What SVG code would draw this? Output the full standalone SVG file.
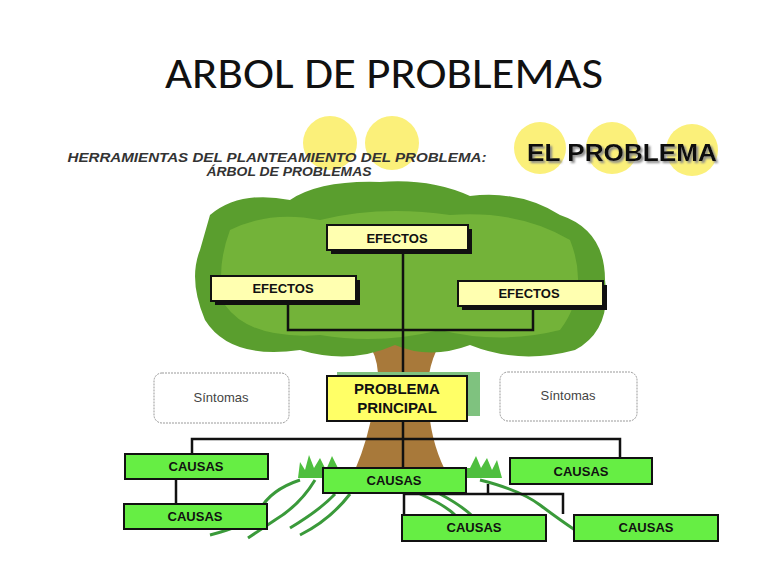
<svg xmlns="http://www.w3.org/2000/svg" width="768" height="576" viewBox="0 0 768 576">
<defs>
<filter id="ds" x="-10%" y="-30%" width="130%" height="170%"><feDropShadow dx="2" dy="2" stdDeviation="0.8" flood-color="#888"/></filter>
</defs>
<style>
.t{font-family:"Liberation Sans",Arial,sans-serif;font-weight:bold;text-anchor:middle;fill:#111}
.ef{fill:#ffffb0;stroke:#111;stroke-width:2}
.ca{fill:#66ee44;stroke:#111;stroke-width:2}
.sh{fill:#111}
.ln{stroke:#111;stroke-width:2.5;fill:none}
.root{stroke:#3a9a3a;stroke-width:3;fill:none}
.sin{fill:#fff;stroke:#999;stroke-width:1;stroke-dasharray:2 1}
</style>
<rect width="768" height="576" fill="#fff"/>
<text x="384" y="88" font-family="Carlito,'Open Sans','Liberation Sans',sans-serif" font-size="44" text-anchor="middle" fill="#111" textLength="438" lengthAdjust="spacingAndGlyphs">ARBOL DE PROBLEMAS</text>
<g fill="#fbf07a">
<circle cx="330" cy="143" r="27"/><circle cx="392" cy="143" r="27"/>
<circle cx="540" cy="148" r="26"/><circle cx="612" cy="148" r="26"/><circle cx="692" cy="150" r="26"/>
</g>
<text x="277" y="162" font-family="'Liberation Sans',Arial,sans-serif" font-weight="bold" font-style="italic" font-size="12.5" text-anchor="middle" fill="#333" textLength="419" lengthAdjust="spacingAndGlyphs">HERRAMIENTAS DEL PLANTEAMIENTO DEL PROBLEMA:</text>
<text x="289" y="176" font-family="'Liberation Sans',Arial,sans-serif" font-weight="bold" font-style="italic" font-size="12.5" text-anchor="middle" fill="#333" textLength="165" lengthAdjust="spacingAndGlyphs">ÁRBOL DE PROBLEMAS</text>
<text x="622" y="161" class="t" font-size="23" filter="url(#ds)" textLength="190" lengthAdjust="spacingAndGlyphs">EL PROBLEMA</text>
<!-- trunk -->
<path d="M362 335 Q385 360 375 400 Q368 440 355 470 L445 470 Q430 440 428 400 Q425 365 445 335 Z" fill="#a8793a"/>
<!-- canopy -->
<path d="M210 215 Q240 190 290 200 Q320 180 380 182 Q430 178 470 196 Q520 190 560 215 Q605 230 605 280 Q612 330 575 350 Q520 365 470 345 Q430 360 395 345 Q350 365 300 350 Q230 360 205 320 Q188 280 200 250 Z" fill="#5a9e2e"/>
<path d="M230 230 Q270 210 320 220 Q380 205 450 215 Q520 210 570 240 Q590 290 560 330 Q500 345 440 330 Q380 345 320 335 Q250 340 225 305 Q215 270 230 230 Z" fill="#79b83c" opacity="0.8"/>
<!-- grass -->
<path d="M298 478 L300 462 L305 470 L309 455 L314 468 L320 458 L326 470 L332 456 L338 468 L470 468 L476 456 L481 468 L487 458 L492 470 L497 460 L502 478 Z" fill="#4fbf3f"/>
<!-- roots -->
<g class="root">
<path d="M300 480 Q270 490 260 510 Q250 525 210 535"/>
<path d="M315 480 Q300 505 275 520 Q260 530 248 538"/>
<path d="M335 494 Q320 510 290 528"/>
<path d="M350 494 Q330 520 300 535"/>
<path d="M440 494 Q470 510 480 525"/>
<path d="M420 494 Q445 505 455 515"/>
<path d="M480 480 Q520 490 540 505 Q560 520 575 530"/>
</g>
<g id="connectors" class="ln">
<path d="M403 250 V376"/>
<path d="M288 301 V330 H533 V306"/>
<path d="M403 421 V468"/>
<path d="M192 455 V439 H620 V458"/>
<path d="M176 479 V504"/>
<path d="M488 484 V494 M404 515 V494 H563 V514"/>
</g>
<g id="efectos-top"><rect class="sh" x="331" y="229" width="141" height="25"/><rect class="ef" x="327" y="225" width="141" height="25"/><text class="t" x="397" y="243" font-size="13">EFECTOS</text></g>
<g id="efectos-left"><rect class="sh" x="215" y="280" width="145" height="25"/><rect class="ef" x="211" y="276" width="145" height="25"/><text class="t" x="283" y="293" font-size="13">EFECTOS</text></g>
<g id="efectos-right"><rect class="sh" x="462" y="285" width="145" height="25"/><rect class="ef" x="458" y="281" width="145" height="25"/><text class="t" x="529" y="298" font-size="13">EFECTOS</text></g>
<g id="sintomas-left"><rect class="sin" x="154" y="373" width="135" height="50" rx="8"/><text x="221" y="402" font-family="'Liberation Sans',Arial,sans-serif" font-size="13" text-anchor="middle" fill="#444">Síntomas</text></g>
<g id="sintomas-right"><rect class="sin" x="500" y="372" width="137" height="49" rx="8"/><text x="568" y="400" font-family="'Liberation Sans',Arial,sans-serif" font-size="13" text-anchor="middle" fill="#444">Síntomas</text></g>
<g id="problema"><rect x="337" y="372" width="143" height="44" fill="#7fc27f"/><rect x="327" y="376" width="140" height="45" fill="#ffff66" stroke="#111" stroke-width="2"/><text class="t" x="397" y="394" font-size="15">PROBLEMA</text><text class="t" x="397" y="413" font-size="15">PRINCIPAL</text></g>
<g id="causas-l1"><rect class="ca" x="125" y="454" width="143" height="25"/><text class="t" x="196" y="471" font-size="13">CAUSAS</text></g>
<g id="causas-c"><rect class="ca" x="323" y="468" width="143" height="25"/><text class="t" x="394" y="485" font-size="13">CAUSAS</text></g>
<g id="causas-r1"><rect class="ca" x="510" y="458" width="142" height="26"/><text class="t" x="581" y="476" font-size="13">CAUSAS</text></g>
<g id="causas-l2"><rect class="ca" x="124" y="504" width="143" height="25"/><text class="t" x="195" y="521" font-size="13">CAUSAS</text></g>
<g id="causas-r2a"><rect class="ca" x="402" y="515" width="144" height="26"/><text class="t" x="474" y="532" font-size="13">CAUSAS</text></g>
<g id="causas-r2b"><rect class="ca" x="574" y="515" width="144" height="26"/><text class="t" x="646" y="532" font-size="13">CAUSAS</text></g>
</svg>
